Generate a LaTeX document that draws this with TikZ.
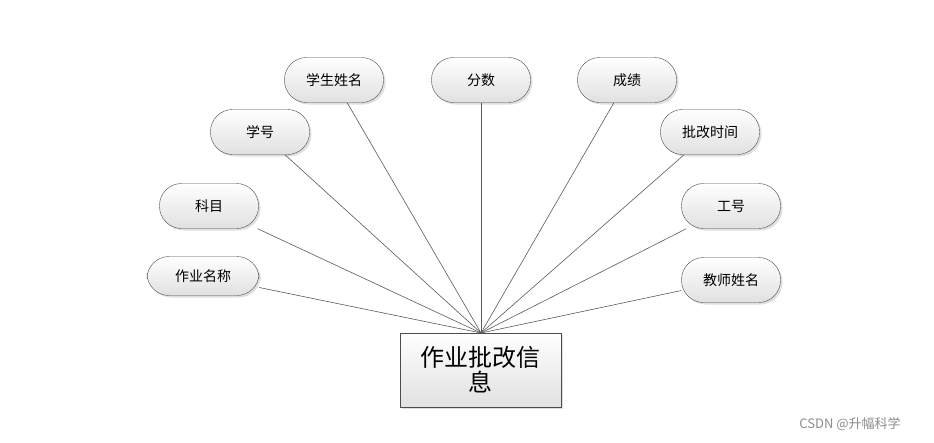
\documentclass[tikz,border=0pt]{standalone}
\usepackage{fontspec}
\setmainfont{Noto Sans CJK SC}
\usetikzlibrary{shadows}
\tikzset{
  attr/.style={draw=black!70, rounded corners=22pt, minimum width=99pt, minimum height=45pt,
    top color=white, bottom color=black!12, drop shadow={opacity=0.25, shadow xshift=2pt, shadow yshift=-2pt},
    font=\fontsize{14}{16}\selectfont},
  entity/.style={draw=black!70, minimum width=161pt, minimum height=74pt, align=center,
    top color=white, bottom color=black!12, drop shadow={opacity=0.25, shadow xshift=2pt, shadow yshift=-2pt},
    font=\fontsize{24}{29}\selectfont},
  link/.style={draw=black!65, line width=0.6pt}
}
\begin{document}
\begin{tikzpicture}[x=1pt,y=-1pt]
    \useasboundingbox (0,0) rectangle (934,442);
    \node[entity] (info) at (480.5,370) {作业批改信\\[-4pt]息};
    \coordinate (hub) at (481,333);
    \node[attr] (name) at (334,80) {学生姓名};
    \node[attr] (score) at (481,80) {分数};
    \node[attr] (grade) at (627,80) {成绩};
    \node[attr] (sid) at (260,132) {学号};
    \node[attr] (time) at (710,132) {批改时间};
    \node[attr] (subject) at (209,206) {科目};
    \node[attr] (tid) at (731,206) {工号};
    \node[attr, minimum width=112pt, minimum height=39pt] (hw) at (203,276) {作业名称};
    \node[attr] (tname) at (731,280) {教师姓名};
    \foreach \n in {name,score,grade,sid,time,subject,tid,hw,tname}
        \draw[link] (\n) -- (hub);
    \node[text=black!45, font=\fontsize{13}{15}\selectfont] (mark) at (850,424) {CSDN @升幅科学};
\end{tikzpicture}
\end{document}
